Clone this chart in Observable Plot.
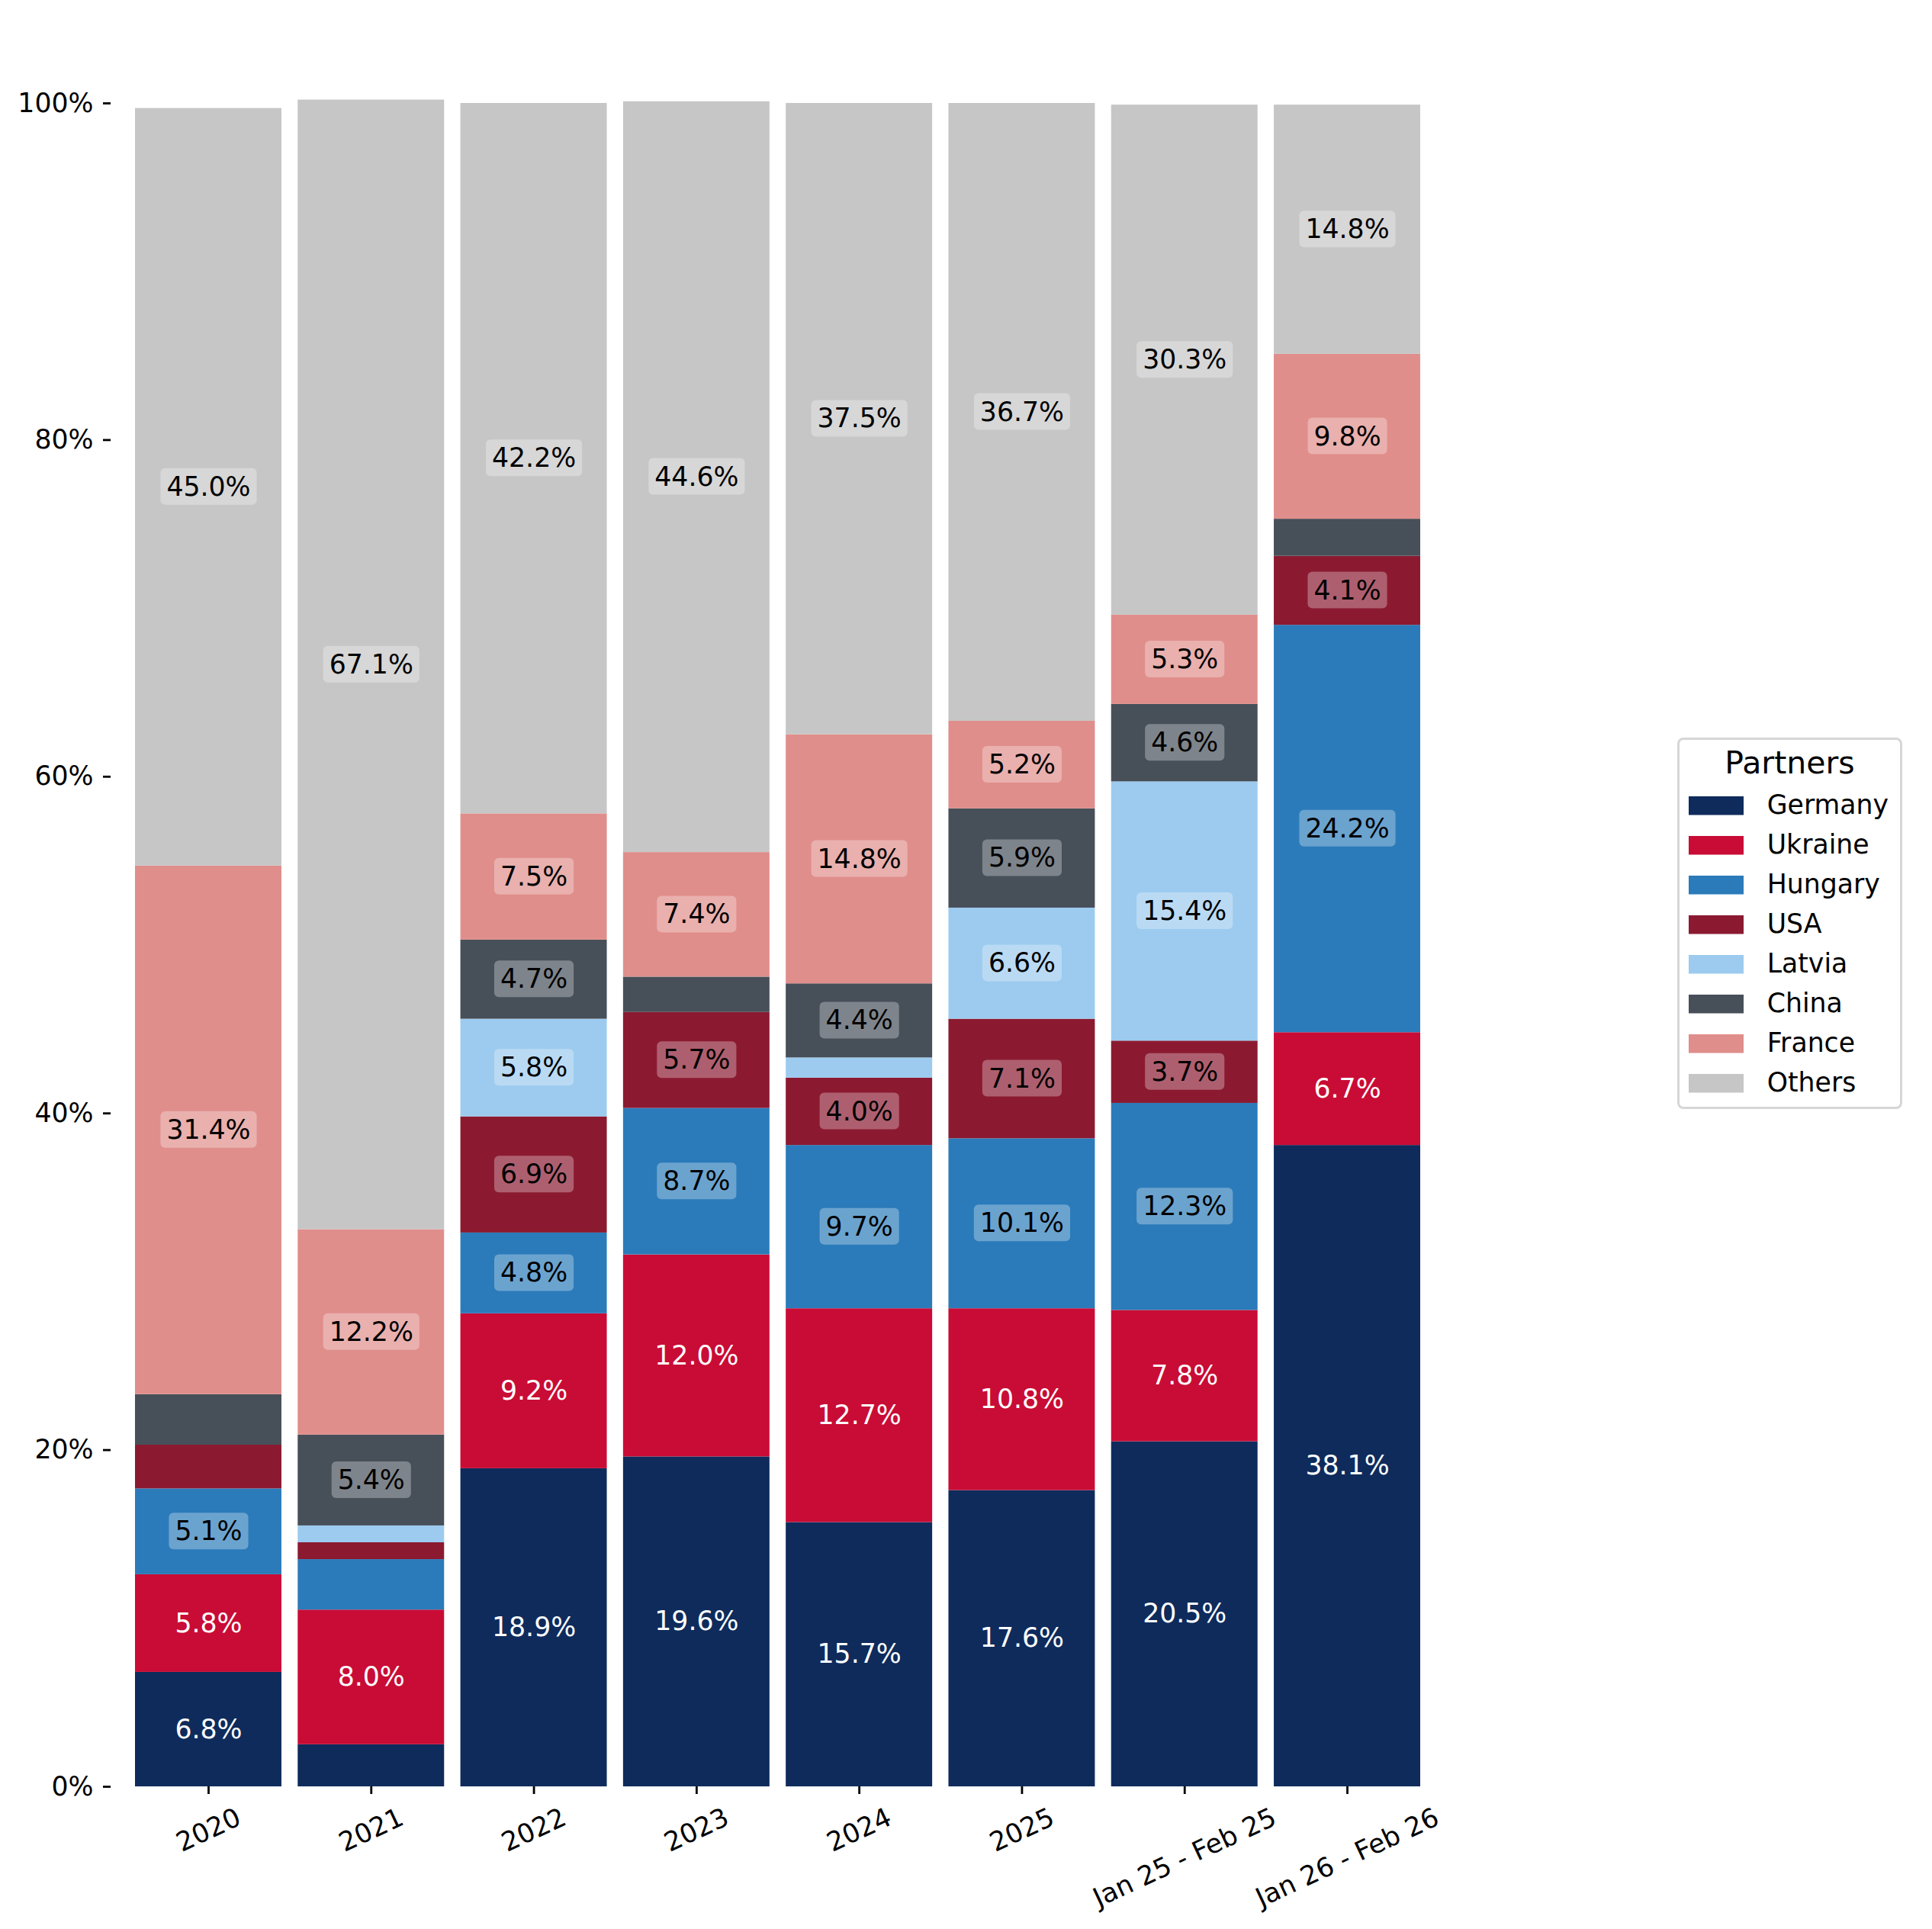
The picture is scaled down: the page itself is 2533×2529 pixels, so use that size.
<!DOCTYPE html>
<html>
<head>
<meta charset="utf-8">
<script src="https://cdn.jsdelivr.net/npm/d3@7"></script>
<script src="https://cdn.jsdelivr.net/npm/@observablehq/plot@0.6"></script>
<style>
html, body { margin: 0; padding: 0; background: #fff; }
#wrap { position: relative; width: 2533px; height: 2529px; font-family: "DejaVu Sans", sans-serif; }
#legend {
  position: absolute; left: 2199px; top: 967px; width: 295px; height: 487px;
  box-sizing: border-box; border: 3px solid #d6d6d6; border-radius: 8px;
  background: #fff; padding-left: 12px;
}
#legend .title {
  font-size: 41px; line-height: 41px; height: 41px; margin: 10px 0 9px -12px;
  text-align: center; color: #000;
}
.partners-swatches { font-family: "DejaVu Sans", sans-serif; font-size: 34.7px; margin: 0; color: #000; }
.partners-swatch { height: 52px; padding: 0; display: flex; align-items: center; }
.partners-swatch > svg { margin-right: 30.7px; }
.partners-swatch-label { line-height: 1.2; overflow: visible !important; text-overflow: clip !important; }
</style>
</head>
<body>
<div id="wrap"></div>
<script>
// ---- data ----
const periods = ["2020", "2021", "2022", "2023", "2024", "2025", "Jan 25 - Feb 25", "Jan 26 - Feb 26"];
const partners = ["Germany", "Ukraine", "Hungary", "USA", "Latvia", "China", "France", "Others"];
const partnerColors = ["#0e2b5c", "#c90c35", "#2b7bba", "#8b1a31", "#9ccbef", "#474f59", "#e08e8b", "#c6c6c6"];

const germany = [6.8, 2.5, 18.9, 19.6, 15.7, 17.6, 20.5, 38.1];
const ukraine = [5.8, 8.0, 9.2, 12.0, 12.7, 10.8, 7.8, 6.7];
const hungary = [5.1, 3.0, 4.8, 8.7, 9.7, 10.1, 12.3, 24.2];
const usa     = [2.6, 1.0, 6.9, 5.7, 4.0, 7.1, 3.7, 4.1];
const latvia  = [0.0, 1.0, 5.8, 0.0, 1.2, 6.6, 15.4, 0.0];
const china   = [3.0, 5.4, 4.7, 2.1, 4.4, 5.9, 4.6, 2.2];
const france  = [31.4, 12.2, 7.5, 7.4, 14.8, 5.2, 5.3, 9.8];
const others  = [45.0, 67.1, 42.2, 44.6, 37.5, 36.7, 30.3, 14.8];

const yTicks = [0, 20, 40, 60, 80, 100];
const legendTitle = "Partners";

// ---- table ----
const seriesByPartner = {
  Germany: germany, Ukraine: ukraine, Hungary: hungary, USA: usa,
  Latvia: latvia, China: china, France: france, Others: others
};
const data = partners.flatMap(p => periods.map((period, i) => ({period, partner: p, value: seriesByPartner[p][i]})));

const fmt = v => v.toFixed(1) + "%";
const whiteLabel = new Set(["Germany", "Ukraine"]);
const labelMin = 3.5;
const FS = 34.7;

const chart = Plot.plot({
  width: 2533,
  height: 2529,
  marginLeft: 145,
  marginRight: 639,
  marginTop: 135,
  marginBottom: 187,
  style: {fontFamily: "DejaVu Sans, sans-serif", fontSize: FS + "px", background: "white", color: "black", overflow: "visible"},
  x: {domain: periods, paddingInner: 0.1, paddingOuter: 0.15, round: false},
  y: {domain: [0, 100]},
  color: {domain: partners, range: partnerColors},
  marks: [
    Plot.barY(data, {x: "period", y: "value", fill: "partner", order: partners}),
    Plot.text(data, Plot.stackY({
      x: "period", y: "value", z: "partner", order: partners,
      text: d => whiteLabel.has(d.partner) && d.value >= labelMin ? fmt(d.value) : null,
      fill: "white", fontSize: FS, ariaDescription: "whitelabels"
    })),
    Plot.text(data, Plot.stackY({
      x: "period", y: "value", z: "partner", order: partners,
      text: d => !whiteLabel.has(d.partner) && d.value >= labelMin ? fmt(d.value) : null,
      fill: "black", fontSize: FS, ariaDescription: "boxed", className: "boxed"
    })),
    Plot.axisY({ticks: yTicks, tickFormat: d => d + "%", tickSize: 10, tickPadding: 13, strokeWidth: 2.8, label: null, fontSize: FS}),
    Plot.axisX({tickSize: 10, tickFormat: () => "", strokeWidth: 2.8, label: null}),
    Plot.text(periods, {x: d => d, frameAnchor: "bottom", rotate: -25, textAnchor: "middle", lineAnchor: "middle", fontSize: FS, fill: "black", ariaDescription: "xlabels", className: "xlabels"})
  ]
});

const wrap = document.getElementById("wrap");
wrap.append(chart);

// legend
const legend = document.createElement("div");
legend.id = "legend";
const title = document.createElement("div");
title.className = "title";
title.textContent = legendTitle;
legend.append(title);
legend.append(Plot.legend({
  color: {domain: partners, range: partnerColors},
  legend: "swatches", columns: 1, swatchWidth: 72, swatchHeight: 24.5, className: "partners"
}));
wrap.append(legend);

const svg = d3.select(chart);

// rounded label boxes behind the dark labels
svg.selectAll('g[aria-description="boxed"] text, g.boxed text').each(function () {
  const b = this.getBBox();
  const t = this.getAttribute("transform");
  const node = this;
  const r = d3.select(this.parentNode).insert("rect", () => node)
    .attr("x", b.x - 8).attr("y", b.y - 4)
    .attr("width", b.width + 16).attr("height", b.height + 8)
    .attr("rx", 6).attr("ry", 6)
    .attr("fill", "white").attr("fill-opacity", 0.3).attr("stroke", "none");
  if (t) r.attr("transform", t);
});

// x labels: matplotlib-like placement (rotated bbox centred on tick, top at a fixed line)
const ang = -25 * Math.PI / 180;
const topY = 2362;
svg.selectAll('g[aria-description="xlabels"] text, g.xlabels text').each(function () {
  const b = this.getBBox();
  const tr = this.getAttribute("transform") || "";
  const m = /translate\(\s*([-\d.e]+)[,\s]+([-\d.e]+)\s*\)/.exec(tr);
  if (!m) return;
  const ctm = this.parentNode.getCTM();
  const offY = ctm ? ctm.f : 0;
  const corners = [[b.x, b.y], [b.x + b.width, b.y], [b.x, b.y + b.height], [b.x + b.width, b.y + b.height]];
  const minY = d3.min(corners, ([x, y]) => x * Math.sin(ang) + y * Math.cos(ang));
  this.setAttribute("transform", `translate(${+m[1]},${topY - offY - minY}) rotate(-25)`);
});
</script>
</body>
</html>
